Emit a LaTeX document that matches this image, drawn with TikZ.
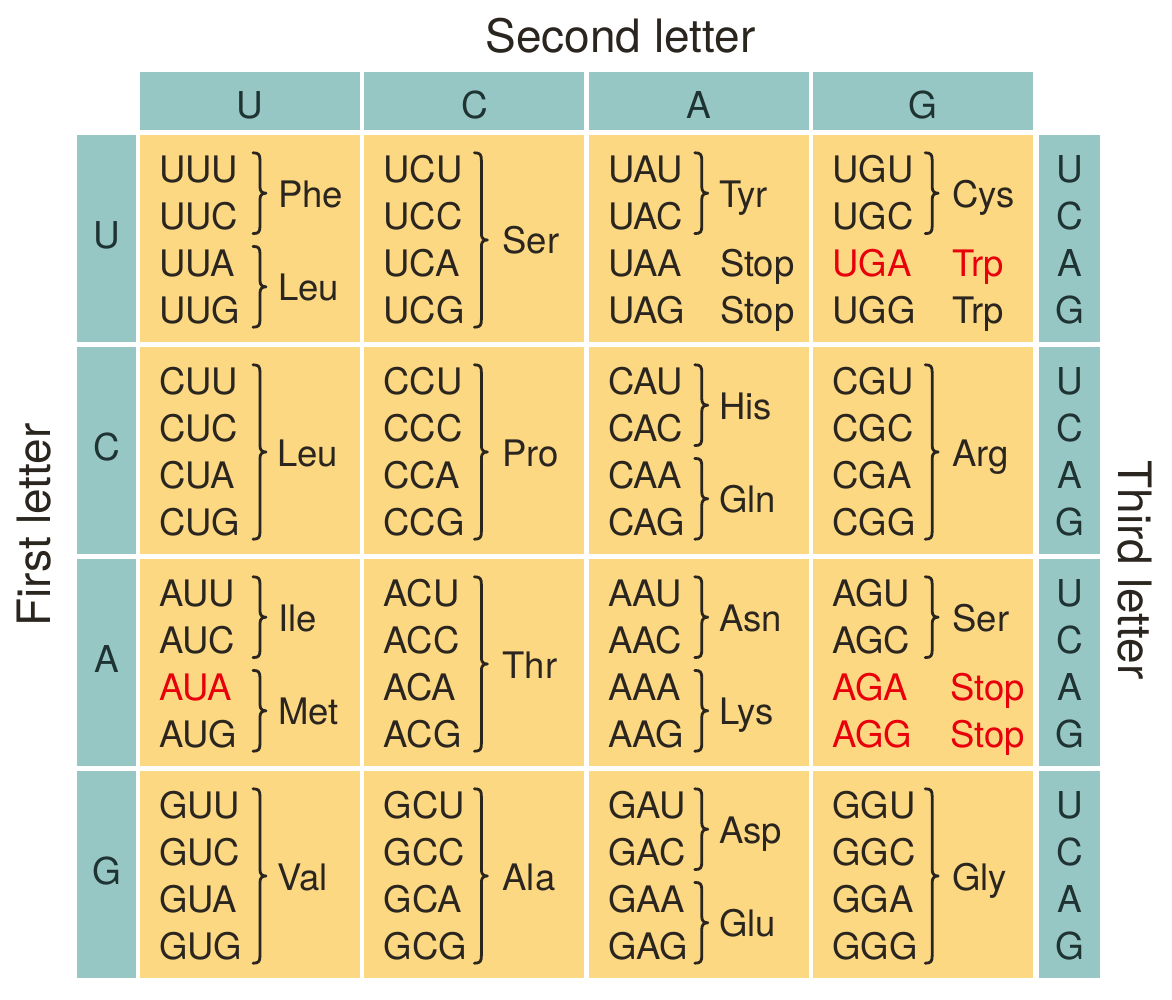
\documentclass[tikz,border=0pt]{standalone}
\usepackage{fontspec}
\setmainfont{TeX Gyre Heros}
\definecolor{tealbg}{HTML}{97C7C5}
\definecolor{yellowbg}{HTML}{FDD883}
\definecolor{ink}{HTML}{2A261F}
\definecolor{tealink}{HTML}{1F3333}
\definecolor{redink}{HTML}{E8000B}
\tikzset{
  declare function={colx(\c)=140+224.4*\c; rowc(\r)=238.5+212*\r; bl(\r,\k)=rowc(\r)+14.5+46.8*(\k-1.5);},
  codon/.style={anchor=base west, inner sep=0pt, text=ink, font=\fontsize{36.5}{40}\selectfont},
  amino/.style={codon},
  redtxt/.style={text=redink},
  brc/.style={line width=2.8pt, draw=ink, line cap=round, line join=round},
  tealcell/.style={fill=tealbg, draw=none},
  yellowcell/.style={fill=yellowbg, draw=none},
  hdr/.style={anchor=base, inner sep=0pt, text=tealink, font=\fontsize{37}{40}\selectfont},
  ttl/.style={anchor=base, inner sep=0pt, text=ink, font=\fontsize{46}{50}\selectfont}
}
\newcommand\cdn[5][]{\node[codon,#1] (#5) at ({colx(#2)+19},{bl(#3,#4)}) {#5};}
\newcommand\amn[7][]{\node[amino,#1] (#7) at ({colx(#2)+#5},{bl(#3,#4)}) {#6};}
% custom brace: #1 col, #2 row, #3 first line, #4 last line, #5 brace x offset, #6 amino x offset, #7 text, #8 name
\newcommand\grp[8]{%
  \pgfmathsetmacro\bx{colx(#1)+#5}%
  \pgfmathsetmacro\bt{bl(#2,#3)-30}%
  \pgfmathsetmacro\bb{bl(#2,#4)+4}%
  \pgfmathsetmacro\bm{(\bt+\bb)/2}%
  \coordinate (#8-t) at (\bx,\bt);
  \coordinate (#8-b) at (\bx,\bb);
  \coordinate (#8-m) at (\bx+13,\bm);
  \draw[brc] (#8-t) .. controls (\bx+6,\bt) and (\bx+7,\bt+2) .. (\bx+7,\bt+8)
     -- (\bx+7,\bm-6) .. controls (\bx+7,\bm-2) and (\bx+9,\bm) .. (#8-m)
     .. controls (\bx+9,\bm) and (\bx+7,\bm+2) .. (\bx+7,\bm+6)
     -- (\bx+7,\bb-8) .. controls (\bx+7,\bb-2) and (\bx+6,\bb) .. (#8-b);
  \node[amino] (#8) at ({colx(#1)+#6},{(bl(#2,#3)+bl(#2,#4))/2+1}) {#7};}
\begin{document}
\begin{tikzpicture}[x=1pt,y=-1pt]
\fill[white] (0,0) rectangle (1172,1000);
\useasboundingbox (0,0) rectangle (1172,1000);
% header band and side columns
\foreach \c/\l in {0/U,1/C,2/A,3/G}{
  \fill[tealcell] ({colx(\c)},72) rectangle ({colx(\c)+220},130);
  \node[hdr] (h-\l) at ({colx(\c)+110},119) {\l};
}
\foreach \r/\l in {0/U,1/C,2/A,3/G}{
  \fill[tealcell] (77,{rowc(\r)-103.5}) rectangle (136,{rowc(\r)+103.5});
  \node[hdr] (f-\l) at (106.5,{rowc(\r)+10}) {\l};
  \fill[tealcell] (1039,{rowc(\r)-103.5}) rectangle (1100,{rowc(\r)+103.5});
  \foreach \k/\t in {0/U,1/C,2/A,3/G}{
    \node[hdr] (t-\l\t) at (1069.5,{bl(\r,\k)}) {\t};
  }
  \foreach \c in {0,1,2,3}{
    \fill[yellowcell] ({colx(\c)},{rowc(\r)-103.5}) rectangle ({colx(\c)+220},{rowc(\r)+103.5});
  }
}
% titles
\node[ttl] (second) at (620.5,53) {Second letter};
\node[ttl, rotate=90] (first) at (50,525) {First letter};
\node[ttl, rotate=-90] (third) at (1118,570) {Third letter};
% ---- Row U ----
\cdn{0}{0}{0}{UUU}\cdn{0}{0}{1}{UUC}\cdn{0}{0}{2}{UUA}\cdn{0}{0}{3}{UUG}
\grp{0}{0}{0}{1}{113}{138}{Phe}{aPhe}
\grp{0}{0}{2}{3}{113}{138}{Leu}{aLeuA}
\cdn{1}{0}{0}{UCU}\cdn{1}{0}{1}{UCC}\cdn{1}{0}{2}{UCA}\cdn{1}{0}{3}{UCG}
\grp{1}{0}{0}{3}{110}{138}{Ser}{aSerA}
\cdn{2}{0}{0}{UAU}\cdn{2}{0}{1}{UAC}\cdn{2}{0}{2}{UAA}\cdn{2}{0}{3}{UAG}
\grp{2}{0}{0}{1}{106}{130}{Tyr}{aTyr}
\amn{2}{0}{2}{131}{Stop}{aStopA}
\amn{2}{0}{3}{131}{Stop}{aStopB}
\cdn{3}{0}{0}{UGU}\cdn{3}{0}{1}{UGC}\cdn[redtxt]{3}{0}{2}{UGA}\cdn{3}{0}{3}{UGG}
\grp{3}{0}{0}{1}{112}{139}{Cys}{aCys}
\amn[redtxt]{3}{0}{2}{139}{Trp}{aTrpA}
\amn{3}{0}{3}{139}{Trp}{aTrpB}
% ---- Row C ----
\cdn{0}{1}{0}{CUU}\cdn{0}{1}{1}{CUC}\cdn{0}{1}{2}{CUA}\cdn{0}{1}{3}{CUG}
\grp{0}{1}{0}{3}{113}{137}{Leu}{aLeuB}
\cdn{1}{1}{0}{CCU}\cdn{1}{1}{1}{CCC}\cdn{1}{1}{2}{CCA}\cdn{1}{1}{3}{CCG}
\grp{1}{1}{0}{3}{110}{138}{Pro}{aPro}
\cdn{2}{1}{0}{CAU}\cdn{2}{1}{1}{CAC}\cdn{2}{1}{2}{CAA}\cdn{2}{1}{3}{CAG}
\grp{2}{1}{0}{1}{106}{130}{His}{aHis}
\grp{2}{1}{2}{3}{106}{130}{Gln}{aGln}
\cdn{3}{1}{0}{CGU}\cdn{3}{1}{1}{CGC}\cdn{3}{1}{2}{CGA}\cdn{3}{1}{3}{CGG}
\grp{3}{1}{0}{3}{112}{139}{Arg}{aArg}
% ---- Row A ----
\cdn{0}{2}{0}{AUU}\cdn{0}{2}{1}{AUC}\cdn[redtxt]{0}{2}{2}{AUA}\cdn{0}{2}{3}{AUG}
\grp{0}{2}{0}{1}{113}{138}{Ile}{aIle}
\grp{0}{2}{2}{3}{113}{138}{Met}{aMet}
\cdn{1}{2}{0}{ACU}\cdn{1}{2}{1}{ACC}\cdn{1}{2}{2}{ACA}\cdn{1}{2}{3}{ACG}
\grp{1}{2}{0}{3}{110}{138}{Thr}{aThr}
\cdn{2}{2}{0}{AAU}\cdn{2}{2}{1}{AAC}\cdn{2}{2}{2}{AAA}\cdn{2}{2}{3}{AAG}
\grp{2}{2}{0}{1}{106}{130}{Asn}{aAsn}
\grp{2}{2}{2}{3}{106}{130}{Lys}{aLys}
\cdn{3}{2}{0}{AGU}\cdn{3}{2}{1}{AGC}\cdn[redtxt]{3}{2}{2}{AGA}\cdn[redtxt]{3}{2}{3}{AGG}
\grp{3}{2}{0}{1}{112}{139}{Ser}{aSerB}
\amn[redtxt]{3}{2}{2}{137}{Stop}{aStopC}
\amn[redtxt]{3}{2}{3}{137}{Stop}{aStopD}
% ---- Row G ----
\cdn{0}{3}{0}{GUU}\cdn{0}{3}{1}{GUC}\cdn{0}{3}{2}{GUA}\cdn{0}{3}{3}{GUG}
\grp{0}{3}{0}{3}{113}{137}{Val}{aVal}
\cdn{1}{3}{0}{GCU}\cdn{1}{3}{1}{GCC}\cdn{1}{3}{2}{GCA}\cdn{1}{3}{3}{GCG}
\grp{1}{3}{0}{3}{110}{138}{Ala}{aAla}
\cdn{2}{3}{0}{GAU}\cdn{2}{3}{1}{GAC}\cdn{2}{3}{2}{GAA}\cdn{2}{3}{3}{GAG}
\grp{2}{3}{0}{1}{106}{130}{Asp}{aAsp}
\grp{2}{3}{2}{3}{106}{130}{Glu}{aGlu}
\cdn{3}{3}{0}{GGU}\cdn{3}{3}{1}{GGC}\cdn{3}{3}{2}{GGA}\cdn{3}{3}{3}{GGG}
\grp{3}{3}{0}{3}{112}{139}{Gly}{aGly}
\end{tikzpicture}
\end{document}
